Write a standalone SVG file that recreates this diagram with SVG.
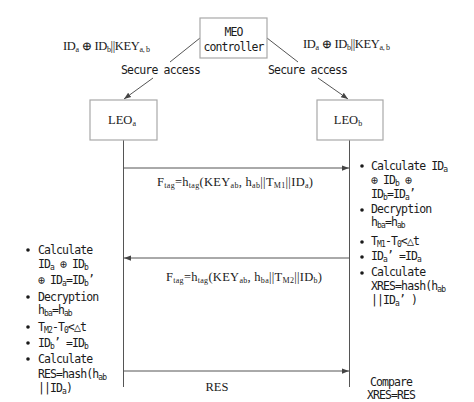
<svg xmlns="http://www.w3.org/2000/svg" width="474" height="402" viewBox="0 0 474 402">
<style>
.t{font-family:"DejaVu Sans Mono","Liberation Mono",monospace;font-size:11.5px;letter-spacing:-0.9px;fill:#1a1a1a}
.l{font-family:"Liberation Serif","DejaVu Serif",serif;font-size:12.5px;fill:#1a1a1a}
.s{font-size:8px}
.box{fill:#fff;stroke:#a8a8a8;stroke-width:1.2}
.ln{stroke:#555;stroke-width:1;fill:none}
.b{fill:#1a1a1a}
</style>
<defs>
<marker id="ah" viewBox="0 0 8 8" refX="8" refY="4" markerWidth="7" markerHeight="7" orient="auto" markerUnits="userSpaceOnUse">
<path d="M0,1 L8,4 L0,7 Z" fill="#444"/>
</marker>
</defs>
<rect width="474" height="402" fill="#fff"/>
<g id="connectors">
<line class="ln" x1="200" y1="38" x2="170" y2="62"/>
<line class="ln" x1="153" y1="78" x2="124" y2="99" marker-end="url(#ah)"/>
<line class="ln" x1="267" y1="38" x2="298" y2="62"/>
<line class="ln" x1="318" y1="78" x2="348" y2="99" marker-end="url(#ah)"/>
<line class="ln" x1="123.5" y1="140" x2="123.5" y2="387"/>
<line class="ln" x1="349.5" y1="140" x2="349.5" y2="387"/>
<line class="ln" x1="123.5" y1="168" x2="349" y2="168" marker-end="url(#ah)"/>
<line class="ln" x1="349.5" y1="258" x2="124" y2="258" marker-end="url(#ah)"/>
<line class="ln" x1="123.5" y1="371" x2="349" y2="371" marker-end="url(#ah)"/>
<text class="t" x="121" y="74" textLength="79">Secure access</text>
<text class="t" x="268" y="74" textLength="79">Secure access</text>
<text class="l" x="63" y="50" textLength="87">ID<tspan class="s" dy="2">a</tspan><tspan dy="-2"> ⊕ ID</tspan><tspan class="s" dy="2">b</tspan><tspan dy="-2">||KEY</tspan><tspan class="s" dy="2">a, b</tspan></text>
<text class="l" x="303" y="48" textLength="87">ID<tspan class="s" dy="2">a</tspan><tspan dy="-2"> ⊕ ID</tspan><tspan class="s" dy="2">b</tspan><tspan dy="-2">||KEY</tspan><tspan class="s" dy="2">a, b</tspan></text>
<text class="l" x="157" y="186" textLength="156">F<tspan class="s" dy="2">tag</tspan><tspan dy="-2">=h</tspan><tspan class="s" dy="2">tag</tspan><tspan dy="-2">(KEY</tspan><tspan class="s" dy="2">ab</tspan><tspan dy="-2">, h</tspan><tspan class="s" dy="2">ab</tspan><tspan dy="-2">||T</tspan><tspan class="s" dy="2">M1</tspan><tspan dy="-2">||ID</tspan><tspan class="s" dy="2">a</tspan><tspan dy="-2">)</tspan></text>
<text class="l" x="166" y="281" textLength="156">F<tspan class="s" dy="2">tag</tspan><tspan dy="-2">=h</tspan><tspan class="s" dy="2">tag</tspan><tspan dy="-2">(KEY</tspan><tspan class="s" dy="2">ab</tspan><tspan dy="-2">, h</tspan><tspan class="s" dy="2">ba</tspan><tspan dy="-2">||T</tspan><tspan class="s" dy="2">M2</tspan><tspan dy="-2">||ID</tspan><tspan class="s" dy="2">b</tspan><tspan dy="-2">)</tspan></text>
<text class="l" x="217" y="391" text-anchor="middle">RES</text>
</g>
<g id="meo">
<rect class="box" x="200" y="18" width="67" height="40"/>
<text class="t" x="233.5" y="36" text-anchor="middle">MEO</text>
<text class="t" x="233.5" y="51" text-anchor="middle" textLength="60">controller</text>
</g>
<g id="leo_a">
<rect class="box" x="90" y="100" width="67" height="40"/>
<text class="l" x="122" y="124" text-anchor="middle">LEO<tspan class="s" dy="2">a</tspan></text>
</g>
<g id="leo_b">
<rect class="box" x="317" y="100" width="66" height="40"/>
<text class="l" x="348" y="124" text-anchor="middle">LEO<tspan class="s" dy="2">b</tspan></text>
</g>
<g id="leo_b_steps">
<circle class="b" cx="362" cy="166" r="1.8"/>
<circle class="b" cx="362" cy="210" r="1.8"/>
<circle class="b" cx="362" cy="242" r="1.8"/>
<circle class="b" cx="362" cy="257" r="1.8"/>
<circle class="b" cx="362" cy="273" r="1.8"/>
<text class="t" x="371" y="170">Calculate ID<tspan class="s" dy="2">a</tspan></text>
<text class="t" x="371" y="184">⊕ ID<tspan class="s" dy="2">b</tspan><tspan dy="-2"> ⊕</tspan></text>
<text class="t" x="371" y="198">ID<tspan class="s" dy="2">b</tspan><tspan dy="-2">=ID</tspan><tspan class="s" dy="2">a</tspan><tspan dy="-2">’</tspan></text>
<text class="t" x="371" y="213">Decryption</text>
<text class="t" x="371" y="226">h<tspan class="s" dy="2">ba</tspan><tspan dy="-2">=h</tspan><tspan class="s" dy="2">ab</tspan></text>
<text class="t" x="371" y="245">T<tspan class="s" dy="2">M1</tspan><tspan dy="-2">-T</tspan><tspan class="s" dy="2">0</tspan><tspan dy="-2">&lt;△t</tspan></text>
<text class="t" x="371" y="260">ID<tspan class="s" dy="2">a</tspan><tspan dy="-2">’ =ID</tspan><tspan class="s" dy="2">a</tspan></text>
<text class="t" x="371" y="276">Calculate</text>
<text class="t" x="371" y="290">XRES=hash(h<tspan class="s" dy="2">ab</tspan></text>
<text class="t" x="371" y="304">||ID<tspan class="s" dy="2">a</tspan><tspan dy="-2">’ )</tspan></text>
<text class="t" x="391" y="386" text-anchor="middle">Compare</text>
<text class="t" x="391" y="399" text-anchor="middle">XRES=RES</text>
</g>
<g id="leo_a_steps">
<circle class="b" cx="28" cy="250" r="1.8"/>
<circle class="b" cx="28" cy="297" r="1.8"/>
<circle class="b" cx="28" cy="327" r="1.8"/>
<circle class="b" cx="28" cy="343" r="1.8"/>
<circle class="b" cx="28" cy="359" r="1.8"/>
<text class="t" x="38" y="254">Calculate</text>
<text class="t" x="38" y="268">ID<tspan class="s" dy="2">a</tspan><tspan dy="-2">  ⊕  ID</tspan><tspan class="s" dy="2">b</tspan></text>
<text class="t" x="38" y="284">⊕  ID<tspan class="s" dy="2">a</tspan><tspan dy="-2">=ID</tspan><tspan class="s" dy="2">b</tspan><tspan dy="-2">’</tspan></text>
<text class="t" x="38" y="301">Decryption</text>
<text class="t" x="38" y="314">h<tspan class="s" dy="2">ba</tspan><tspan dy="-2">=h</tspan><tspan class="s" dy="2">ab</tspan></text>
<text class="t" x="38" y="331">T<tspan class="s" dy="2">M2</tspan><tspan dy="-2">-T</tspan><tspan class="s" dy="2">0</tspan><tspan dy="-2">&lt;△t</tspan></text>
<text class="t" x="38" y="347">ID<tspan class="s" dy="2">b</tspan><tspan dy="-2">’ =ID</tspan><tspan class="s" dy="2">b</tspan></text>
<text class="t" x="38" y="363">Calculate</text>
<text class="t" x="38" y="378">RES=hash(h<tspan class="s" dy="2">ab</tspan></text>
<text class="t" x="38" y="392">||ID<tspan class="s" dy="2">a</tspan><tspan dy="-2">)</tspan></text>
</g>
</svg>
